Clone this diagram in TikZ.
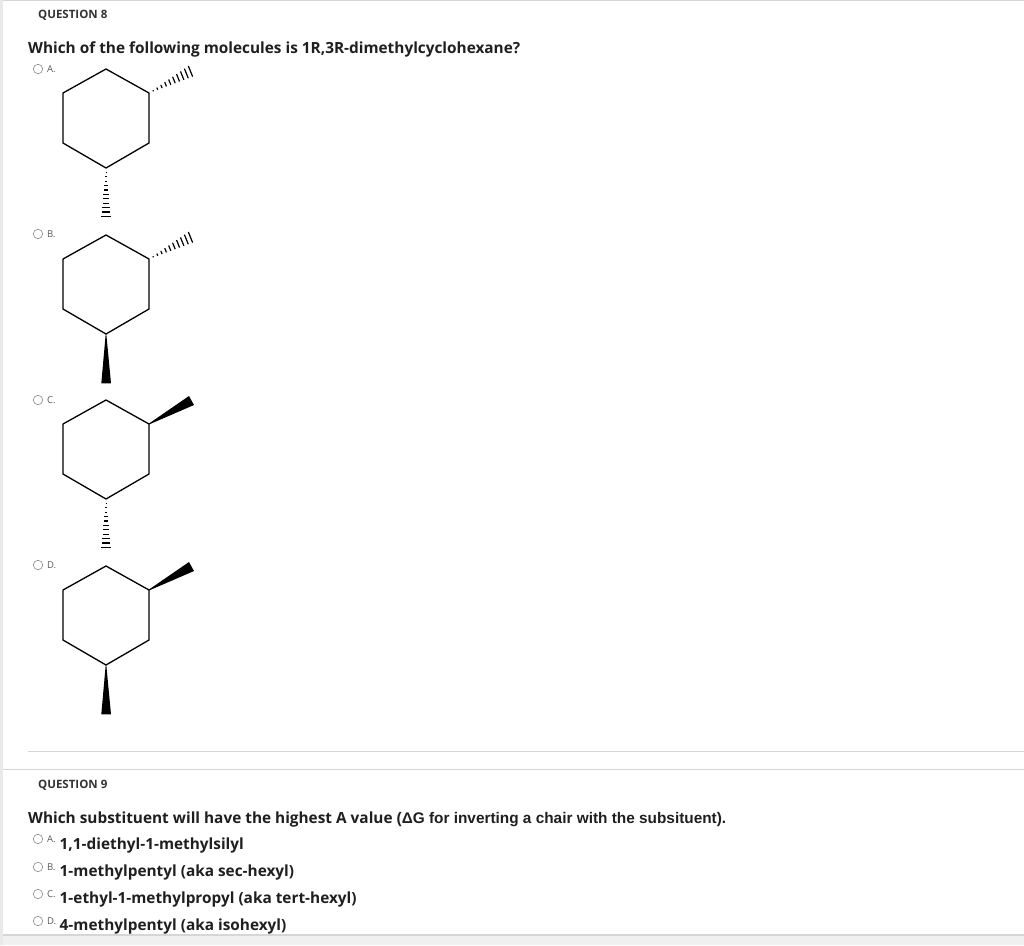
\documentclass[tikz,border=0pt]{standalone}
\usepackage{fontspec}
\setmainfont{Open Sans}
\newfontfamily\arialfont{Liberation Sans}
\definecolor{rulegray}{RGB}{214,214,214}
\definecolor{footgray}{RGB}{240,240,240}
\definecolor{labelgray}{RGB}{90,90,90}
\tikzset{
    bond/.style={black,line width=1.3pt,line join=round},
    hashbond/.style={black,line width=1.2pt},
    wedgebond/.style={black,fill=black,draw=none},
    head/.style={anchor=base west,inner sep=0pt,font=\bfseries\fontsize{11.5}{13}\selectfont,text=black!80},
    ask/.style={anchor=base west,inner sep=0pt,font=\bfseries\fontsize{15.37}{18}\selectfont,text=black!88},
    answer/.style={anchor=base west,inner sep=0pt,font=\bfseries\fontsize{15.37}{18}\selectfont,text=black!88},
    radio/.style={circle,draw=black!45,fill=white,line width=.6pt,minimum size=9.5pt,inner sep=0pt},
    optlabel/.style={anchor=base west,inner sep=0pt,font=\fontsize{9.5}{10}\selectfont,text=labelgray},
    rulerline/.style={rulegray,line width=1.2pt}
}
\newcommand{\ringat}[1]{
    \draw[bond,yshift=-#1pt] (106,-69) -- (149,-93) -- (149,-143) -- (106,-168) -- (63,-143) -- (63,-93) -- cycle;
}
% hashed bonds, the lines get longer away from the ring
\newcommand{\hashright}[1]{
    \foreach \t in {1,...,10}
        \draw[hashbond,yshift=-#1pt] ({149+\t*4.15},{-93+\t*2.17}) ++(112:{-.575*\t}) -- ++(112:{1.15*\t});
}
\newcommand{\hashdown}[1]{
    \foreach \t in {1,...,11}
        \draw[hashbond,yshift=-#1pt] ({106-.43*\t},{-168-\t*4.4}) -- ({106+.43*\t},{-168-\t*4.4});
}
\newcommand{\wedgedown}[1]{
    \fill[wedgebond,yshift=-#1pt] (105.7,-168) -- (106.3,-168) -- (111,-217.3) -- (101.3,-217.3) -- cycle;
}
\newcommand{\wedgeright}[1]{
    \fill[wedgebond,yshift=-#1pt] (149,-92.5) -- (149,-93.5) -- (194,-74) -- (189,-65) -- cycle;
}

\begin{document}
\begin{tikzpicture}[x=1pt,y=1pt]
    \useasboundingbox (0,0) rectangle (1024,-945);
    \fill[white] (0,0) rectangle (1024,-945);

    % page frame
    \fill[rulegray!55] (0,0) rectangle (3,-945);
    \draw[rulerline] (3,-.8) -- (1024,-.8);

    % question 8
    \node[head] (qeight) at (38,-18) {QUESTION 8};
    \node[ask] (asketh) at (28,-53.2) {Which of the following molecules is 1R,3R-dimethylcyclohexane?};

    \node[radio] (ra) at (38,-69) {};
    \node[optlabel] (la) at (47,-72.5) {A.};
    \node[radio] (rb) at (38,-234) {};
    \node[optlabel] (lb) at (47,-237.5) {B.};
    \node[radio] (rc) at (38,-400) {};
    \node[optlabel] (lc) at (47,-403.5) {C.};
    \node[radio] (rd) at (38,-565) {};
    \node[optlabel] (ld) at (47,-568.5) {D.};

    \ringat{0}
    \hashright{0}
    \hashdown{0}

    \ringat{166}
    \hashright{166}
    \wedgedown{166}

    \ringat{331}
    \wedgeright{331}
    \hashdown{331}

    \ringat{497}
    \wedgeright{497}
    \wedgedown{497}

    % question 9
    \draw[rulerline] (28,-751.5) -- (1024,-751.5);
    \draw[rulerline] (3,-769.5) -- (1024,-769.5);
    \node[head] (qnine) at (38,-788) {QUESTION 9};
    \node[ask] (asknine) at (28,-823.2) {Which substituent will have the highest A value {\arialfont (ΔG for inverting a chair with the subsituent).}};

    \node[radio] (sa) at (38,-839) {};
    \node[optlabel] (ta) at (47,-842.5) {A.};
    \node[answer] (aa) at (59.5,-849.5) {1,1-diethyl-1-methylsilyl};
    \node[radio] (sb) at (38,-867) {};
    \node[optlabel] (tb) at (47,-870.5) {B.};
    \node[answer] (ab) at (59.5,-876) {1-methylpentyl (aka sec-hexyl)};
    \node[radio] (sc) at (38,-894) {};
    \node[optlabel] (tc) at (47,-897.5) {C.};
    \node[answer] (ac) at (59.5,-903.5) {1-ethyl-1-methylpropyl (aka tert-hexyl)};
    \node[radio] (sd) at (38,-921) {};
    \node[optlabel] (td) at (47,-924.5) {D.};
    \node[answer] (ad) at (59.5,-930.5) {4-methylpentyl (aka isohexyl)};

    % bar at the bottom
    \fill[footgray] (3,-935) rectangle (1024,-945);
    \draw[rulerline] (3,-935) -- (1024,-935);
\end{tikzpicture}
\end{document}
